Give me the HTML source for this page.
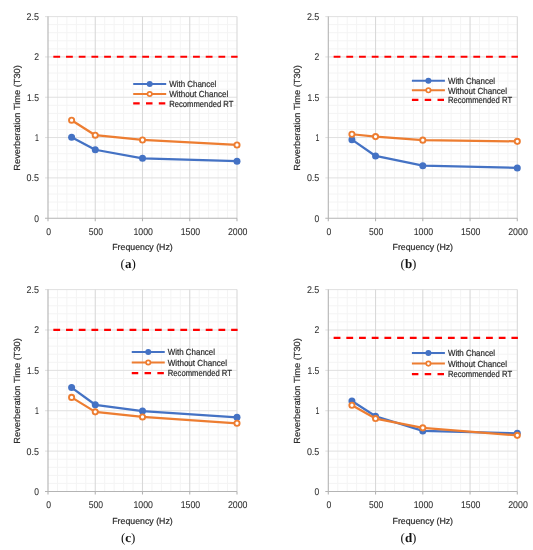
<!DOCTYPE html>
<html><head><meta charset="utf-8"><style>
html,body{margin:0;padding:0;background:#fff;width:533px;height:550px;overflow:hidden}
svg{display:block;will-change:transform;text-rendering:geometricPrecision}
.t{font-family:"Liberation Sans",sans-serif;font-size:8.8px;fill:#2b2b2b;stroke:#333;stroke-width:0.22px;stroke-linejoin:round}
.n{font-family:"Liberation Sans",sans-serif;font-size:9.8px;fill:#2b2b2b;stroke:#444;stroke-width:0.08px;stroke-linejoin:round}
.p{font-family:"Liberation Serif",serif;font-size:13px;fill:#111}
</style></head><body>
<svg width="533" height="550" viewBox="0 0 533 550">
<rect width="533" height="550" fill="#fff"/>
<path d="M57.45 16.6V218.2M66.9 16.6V218.2M76.35 16.6V218.2M85.8 16.6V218.2M104.7 16.6V218.2M114.15 16.6V218.2M123.6 16.6V218.2M133.05 16.6V218.2M151.95 16.6V218.2M161.4 16.6V218.2M170.85 16.6V218.2M180.3 16.6V218.2M199.2 16.6V218.2M208.65 16.6V218.2M218.1 16.6V218.2M227.55 16.6V218.2M48 210.14H237M48 202.07H237M48 194.01H237M48 185.94H237M48 169.82H237M48 161.75H237M48 153.69H237M48 145.62H237M48 129.5H237M48 121.43H237M48 113.37H237M48 105.3H237M48 89.18H237M48 81.11H237M48 73.05H237M48 64.98H237M48 48.86H237M48 40.79H237M48 32.73H237M48 24.66H237" stroke="#F4F4F4" stroke-width="1" fill="none"/>
<path d="M45 177.88H237M45 137.56H237M45 97.24H237M45 56.92H237M45 16.6H237" stroke="#E0E0E0" stroke-width="1" fill="none"/>
<path d="M95.25 16.6V218.2M142.5 16.6V218.2M189.75 16.6V218.2M237 16.6V218.2" stroke="#D9D9D9" stroke-width="1.1" fill="none"/>
<path d="M48 16.6V221.2 M45 218.2H237M95.25 218.2V221.2M142.5 218.2V221.2M189.75 218.2V221.2M237 218.2V221.2" stroke="#B4B4B4" stroke-width="1.1" fill="none"/>
<text x="39" y="221.6" text-anchor="end" class="n" textLength="4.7" lengthAdjust="spacingAndGlyphs">0</text>
<text x="39" y="181.28" text-anchor="end" class="n" textLength="12.4" lengthAdjust="spacingAndGlyphs">0.5</text>
<text x="39" y="140.96" text-anchor="end" class="n" textLength="3.9" lengthAdjust="spacingAndGlyphs">1</text>
<text x="39" y="100.64" text-anchor="end" class="n" textLength="11.9" lengthAdjust="spacingAndGlyphs">1.5</text>
<text x="39" y="60.32" text-anchor="end" class="n" textLength="4.8" lengthAdjust="spacingAndGlyphs">2</text>
<text x="39" y="20" text-anchor="end" class="n" textLength="12.4" lengthAdjust="spacingAndGlyphs">2.5</text>
<text x="48.7" y="234.8" text-anchor="middle" class="n" textLength="4.8" lengthAdjust="spacingAndGlyphs">0</text>
<text x="95.95" y="234.8" text-anchor="middle" class="n" textLength="14.3" lengthAdjust="spacingAndGlyphs">500</text>
<text x="143.2" y="234.8" text-anchor="middle" class="n" textLength="19.5" lengthAdjust="spacingAndGlyphs">1000</text>
<text x="190.45" y="234.8" text-anchor="middle" class="n" textLength="19.5" lengthAdjust="spacingAndGlyphs">1500</text>
<text x="237.7" y="234.8" text-anchor="middle" class="n" textLength="19.6" lengthAdjust="spacingAndGlyphs">2000</text>
<text x="142.5" y="250.2" text-anchor="middle" class="t" textLength="60.5" lengthAdjust="spacingAndGlyphs">Frequency (Hz)</text>
<text transform="translate(19.9 117.9) rotate(-90)" text-anchor="middle" class="t" font-size="9.6" textLength="105.5" lengthAdjust="spacingAndGlyphs">Reverberation Time (T30)</text>
<text x="128.2" y="268.2" text-anchor="middle" class="p">(<tspan font-weight="bold">a</tspan>)</text>
<path d="M53.33 56.77H237.6" stroke="#FF0000" stroke-width="2.2" stroke-dasharray="6.8 5.9" fill="none"/>
<polyline points="71.62,137.16 95.25,149.74 142.5,158.28 237,161.19" stroke="#4472C4" stroke-width="2.25" fill="none" stroke-linejoin="round"/>
<circle cx="71.62" cy="137.16" r="3.5" fill="#4472C4"/>
<circle cx="95.25" cy="149.74" r="3.5" fill="#4472C4"/>
<circle cx="142.5" cy="158.28" r="3.5" fill="#4472C4"/>
<circle cx="237" cy="161.19" r="3.5" fill="#4472C4"/>
<polyline points="71.62,120.22 95.25,135.22 142.5,139.98 237,144.98" stroke="#ED7D31" stroke-width="2.25" fill="none" stroke-linejoin="round"/>
<circle cx="71.62" cy="120.22" r="2.6" fill="#fff" stroke="#ED7D31" stroke-width="1.9"/>
<circle cx="95.25" cy="135.22" r="2.6" fill="#fff" stroke="#ED7D31" stroke-width="1.9"/>
<circle cx="142.5" cy="139.98" r="2.6" fill="#fff" stroke="#ED7D31" stroke-width="1.9"/>
<circle cx="237" cy="144.98" r="2.6" fill="#fff" stroke="#ED7D31" stroke-width="1.9"/>
<path d="M133.2 83.9h33" stroke="#4472C4" stroke-width="2"/>
<circle cx="149.7" cy="83.9" r="3" fill="#4472C4"/>
<path d="M133.2 94h33" stroke="#ED7D31" stroke-width="2"/>
<circle cx="149.7" cy="94" r="2.2" fill="#fff" stroke="#ED7D31" stroke-width="1.7"/>
<path d="M133.2 103.4h33" stroke="#FF0000" stroke-width="2.3" stroke-dasharray="6.5 6.3"/>
<text x="169.2" y="87.1" class="t" textLength="47.2" lengthAdjust="spacingAndGlyphs">With Chancel</text>
<text x="169.2" y="97.2" class="t" textLength="59.2" lengthAdjust="spacingAndGlyphs">Without Chancel</text>
<text x="169.2" y="106.6" class="t" textLength="64.2" lengthAdjust="spacingAndGlyphs">Recommended RT</text>
<path d="M337.75 16.6V218.2M347.2 16.6V218.2M356.65 16.6V218.2M366.1 16.6V218.2M385 16.6V218.2M394.45 16.6V218.2M403.9 16.6V218.2M413.35 16.6V218.2M432.25 16.6V218.2M441.7 16.6V218.2M451.15 16.6V218.2M460.6 16.6V218.2M479.5 16.6V218.2M488.95 16.6V218.2M498.4 16.6V218.2M507.85 16.6V218.2M328.3 210.14H517.3M328.3 202.07H517.3M328.3 194.01H517.3M328.3 185.94H517.3M328.3 169.82H517.3M328.3 161.75H517.3M328.3 153.69H517.3M328.3 145.62H517.3M328.3 129.5H517.3M328.3 121.43H517.3M328.3 113.37H517.3M328.3 105.3H517.3M328.3 89.18H517.3M328.3 81.11H517.3M328.3 73.05H517.3M328.3 64.98H517.3M328.3 48.86H517.3M328.3 40.79H517.3M328.3 32.73H517.3M328.3 24.66H517.3" stroke="#F4F4F4" stroke-width="1" fill="none"/>
<path d="M325.3 177.88H517.3M325.3 137.56H517.3M325.3 97.24H517.3M325.3 56.92H517.3M325.3 16.6H517.3" stroke="#E0E0E0" stroke-width="1" fill="none"/>
<path d="M375.55 16.6V218.2M422.8 16.6V218.2M470.05 16.6V218.2M517.3 16.6V218.2" stroke="#D9D9D9" stroke-width="1.1" fill="none"/>
<path d="M328.3 16.6V221.2 M325.3 218.2H517.3M375.55 218.2V221.2M422.8 218.2V221.2M470.05 218.2V221.2M517.3 218.2V221.2" stroke="#B4B4B4" stroke-width="1.1" fill="none"/>
<text x="319.3" y="221.6" text-anchor="end" class="n" textLength="4.7" lengthAdjust="spacingAndGlyphs">0</text>
<text x="319.3" y="181.28" text-anchor="end" class="n" textLength="12.4" lengthAdjust="spacingAndGlyphs">0.5</text>
<text x="319.3" y="140.96" text-anchor="end" class="n" textLength="3.9" lengthAdjust="spacingAndGlyphs">1</text>
<text x="319.3" y="100.64" text-anchor="end" class="n" textLength="11.9" lengthAdjust="spacingAndGlyphs">1.5</text>
<text x="319.3" y="60.32" text-anchor="end" class="n" textLength="4.8" lengthAdjust="spacingAndGlyphs">2</text>
<text x="319.3" y="20" text-anchor="end" class="n" textLength="12.4" lengthAdjust="spacingAndGlyphs">2.5</text>
<text x="329" y="234.8" text-anchor="middle" class="n" textLength="4.8" lengthAdjust="spacingAndGlyphs">0</text>
<text x="376.25" y="234.8" text-anchor="middle" class="n" textLength="14.3" lengthAdjust="spacingAndGlyphs">500</text>
<text x="423.5" y="234.8" text-anchor="middle" class="n" textLength="19.5" lengthAdjust="spacingAndGlyphs">1000</text>
<text x="470.75" y="234.8" text-anchor="middle" class="n" textLength="19.5" lengthAdjust="spacingAndGlyphs">1500</text>
<text x="518" y="234.8" text-anchor="middle" class="n" textLength="19.6" lengthAdjust="spacingAndGlyphs">2000</text>
<text x="422.8" y="250.2" text-anchor="middle" class="t" textLength="60.5" lengthAdjust="spacingAndGlyphs">Frequency (Hz)</text>
<text transform="translate(300.2 117.9) rotate(-90)" text-anchor="middle" class="t" font-size="9.6" textLength="105.5" lengthAdjust="spacingAndGlyphs">Reverberation Time (T30)</text>
<text x="408.5" y="268.2" text-anchor="middle" class="p">(<tspan font-weight="bold">b</tspan>)</text>
<path d="M333.63 56.77H517.9" stroke="#FF0000" stroke-width="2.2" stroke-dasharray="6.8 5.9" fill="none"/>
<polyline points="351.93,139.66 375.55,155.95 422.8,165.7 517.3,167.88" stroke="#4472C4" stroke-width="2.25" fill="none" stroke-linejoin="round"/>
<circle cx="351.93" cy="139.66" r="3.5" fill="#4472C4"/>
<circle cx="375.55" cy="155.95" r="3.5" fill="#4472C4"/>
<circle cx="422.8" cy="165.7" r="3.5" fill="#4472C4"/>
<circle cx="517.3" cy="167.88" r="3.5" fill="#4472C4"/>
<polyline points="351.93,134.25 375.55,136.59 422.8,140.14 517.3,141.35" stroke="#ED7D31" stroke-width="2.25" fill="none" stroke-linejoin="round"/>
<circle cx="351.93" cy="134.25" r="2.6" fill="#fff" stroke="#ED7D31" stroke-width="1.9"/>
<circle cx="375.55" cy="136.59" r="2.6" fill="#fff" stroke="#ED7D31" stroke-width="1.9"/>
<circle cx="422.8" cy="140.14" r="2.6" fill="#fff" stroke="#ED7D31" stroke-width="1.9"/>
<circle cx="517.3" cy="141.35" r="2.6" fill="#fff" stroke="#ED7D31" stroke-width="1.9"/>
<path d="M411.9 80.7h33" stroke="#4472C4" stroke-width="2"/>
<circle cx="428.4" cy="80.7" r="3" fill="#4472C4"/>
<path d="M411.9 90.3h33" stroke="#ED7D31" stroke-width="2"/>
<circle cx="428.4" cy="90.3" r="2.2" fill="#fff" stroke="#ED7D31" stroke-width="1.7"/>
<path d="M411.9 99.9h33" stroke="#FF0000" stroke-width="2.3" stroke-dasharray="6.5 6.3"/>
<text x="447.9" y="83.9" class="t" textLength="47.2" lengthAdjust="spacingAndGlyphs">With Chancel</text>
<text x="447.9" y="93.5" class="t" textLength="59.2" lengthAdjust="spacingAndGlyphs">Without Chancel</text>
<text x="447.9" y="103.1" class="t" textLength="64.2" lengthAdjust="spacingAndGlyphs">Recommended RT</text>
<path d="M57.45 289.6V491.5M66.9 289.6V491.5M76.35 289.6V491.5M85.8 289.6V491.5M104.7 289.6V491.5M114.15 289.6V491.5M123.6 289.6V491.5M133.05 289.6V491.5M151.95 289.6V491.5M161.4 289.6V491.5M170.85 289.6V491.5M180.3 289.6V491.5M199.2 289.6V491.5M208.65 289.6V491.5M218.1 289.6V491.5M227.55 289.6V491.5M48 483.42H237M48 475.35H237M48 467.27H237M48 459.2H237M48 443.04H237M48 434.97H237M48 426.89H237M48 418.82H237M48 402.66H237M48 394.59H237M48 386.51H237M48 378.44H237M48 362.28H237M48 354.21H237M48 346.13H237M48 338.06H237M48 321.9H237M48 313.83H237M48 305.75H237M48 297.68H237" stroke="#F4F4F4" stroke-width="1" fill="none"/>
<path d="M45 451.12H237M45 410.74H237M45 370.36H237M45 329.98H237M45 289.6H237" stroke="#E0E0E0" stroke-width="1" fill="none"/>
<path d="M95.25 289.6V491.5M142.5 289.6V491.5M189.75 289.6V491.5M237 289.6V491.5" stroke="#D9D9D9" stroke-width="1.1" fill="none"/>
<path d="M48 289.6V494.5 M45 491.5H237M95.25 491.5V494.5M142.5 491.5V494.5M189.75 491.5V494.5M237 491.5V494.5" stroke="#B4B4B4" stroke-width="1.1" fill="none"/>
<text x="39" y="494.9" text-anchor="end" class="n" textLength="4.7" lengthAdjust="spacingAndGlyphs">0</text>
<text x="39" y="454.52" text-anchor="end" class="n" textLength="12.4" lengthAdjust="spacingAndGlyphs">0.5</text>
<text x="39" y="414.14" text-anchor="end" class="n" textLength="3.9" lengthAdjust="spacingAndGlyphs">1</text>
<text x="39" y="373.76" text-anchor="end" class="n" textLength="11.9" lengthAdjust="spacingAndGlyphs">1.5</text>
<text x="39" y="333.38" text-anchor="end" class="n" textLength="4.8" lengthAdjust="spacingAndGlyphs">2</text>
<text x="39" y="293" text-anchor="end" class="n" textLength="12.4" lengthAdjust="spacingAndGlyphs">2.5</text>
<text x="48.7" y="508.1" text-anchor="middle" class="n" textLength="4.8" lengthAdjust="spacingAndGlyphs">0</text>
<text x="95.95" y="508.1" text-anchor="middle" class="n" textLength="14.3" lengthAdjust="spacingAndGlyphs">500</text>
<text x="143.2" y="508.1" text-anchor="middle" class="n" textLength="19.5" lengthAdjust="spacingAndGlyphs">1000</text>
<text x="190.45" y="508.1" text-anchor="middle" class="n" textLength="19.5" lengthAdjust="spacingAndGlyphs">1500</text>
<text x="237.7" y="508.1" text-anchor="middle" class="n" textLength="19.6" lengthAdjust="spacingAndGlyphs">2000</text>
<text x="142.5" y="523.5" text-anchor="middle" class="t" textLength="60.5" lengthAdjust="spacingAndGlyphs">Frequency (Hz)</text>
<text transform="translate(19.9 390.9) rotate(-90)" text-anchor="middle" class="t" font-size="9.6" textLength="105.5" lengthAdjust="spacingAndGlyphs">Reverberation Time (T30)</text>
<text x="128.2" y="541.5" text-anchor="middle" class="p">(<tspan font-weight="bold">c</tspan>)</text>
<path d="M53.33 329.83H237.6" stroke="#FF0000" stroke-width="2.2" stroke-dasharray="6.8 5.9" fill="none"/>
<polyline points="71.62,387.56 95.25,404.76 142.5,411.06 237,417.28" stroke="#4472C4" stroke-width="2.25" fill="none" stroke-linejoin="round"/>
<circle cx="71.62" cy="387.56" r="3.5" fill="#4472C4"/>
<circle cx="95.25" cy="404.76" r="3.5" fill="#4472C4"/>
<circle cx="142.5" cy="411.06" r="3.5" fill="#4472C4"/>
<circle cx="237" cy="417.28" r="3.5" fill="#4472C4"/>
<polyline points="71.62,397.41 95.25,411.87 142.5,416.96 237,423.26" stroke="#ED7D31" stroke-width="2.25" fill="none" stroke-linejoin="round"/>
<circle cx="71.62" cy="397.41" r="2.6" fill="#fff" stroke="#ED7D31" stroke-width="1.9"/>
<circle cx="95.25" cy="411.87" r="2.6" fill="#fff" stroke="#ED7D31" stroke-width="1.9"/>
<circle cx="142.5" cy="416.96" r="2.6" fill="#fff" stroke="#ED7D31" stroke-width="1.9"/>
<circle cx="237" cy="423.26" r="2.6" fill="#fff" stroke="#ED7D31" stroke-width="1.9"/>
<path d="M131.75 352.1h33" stroke="#4472C4" stroke-width="2"/>
<circle cx="148.25" cy="352.1" r="3" fill="#4472C4"/>
<path d="M131.75 362.5h33" stroke="#ED7D31" stroke-width="2"/>
<circle cx="148.25" cy="362.5" r="2.2" fill="#fff" stroke="#ED7D31" stroke-width="1.7"/>
<path d="M131.75 373.2h33" stroke="#FF0000" stroke-width="2.3" stroke-dasharray="6.5 6.3"/>
<text x="167.75" y="355.3" class="t" textLength="47.2" lengthAdjust="spacingAndGlyphs">With Chancel</text>
<text x="167.75" y="365.7" class="t" textLength="59.2" lengthAdjust="spacingAndGlyphs">Without Chancel</text>
<text x="167.75" y="376.4" class="t" textLength="64.2" lengthAdjust="spacingAndGlyphs">Recommended RT</text>
<path d="M337.75 289.6V491.5M347.2 289.6V491.5M356.65 289.6V491.5M366.1 289.6V491.5M385 289.6V491.5M394.45 289.6V491.5M403.9 289.6V491.5M413.35 289.6V491.5M432.25 289.6V491.5M441.7 289.6V491.5M451.15 289.6V491.5M460.6 289.6V491.5M479.5 289.6V491.5M488.95 289.6V491.5M498.4 289.6V491.5M507.85 289.6V491.5M328.3 483.42H517.3M328.3 475.35H517.3M328.3 467.27H517.3M328.3 459.2H517.3M328.3 443.04H517.3M328.3 434.97H517.3M328.3 426.89H517.3M328.3 418.82H517.3M328.3 402.66H517.3M328.3 394.59H517.3M328.3 386.51H517.3M328.3 378.44H517.3M328.3 362.28H517.3M328.3 354.21H517.3M328.3 346.13H517.3M328.3 338.06H517.3M328.3 321.9H517.3M328.3 313.83H517.3M328.3 305.75H517.3M328.3 297.68H517.3" stroke="#F4F4F4" stroke-width="1" fill="none"/>
<path d="M325.3 451.12H517.3M325.3 410.74H517.3M325.3 370.36H517.3M325.3 329.98H517.3M325.3 289.6H517.3" stroke="#E0E0E0" stroke-width="1" fill="none"/>
<path d="M375.55 289.6V491.5M422.8 289.6V491.5M470.05 289.6V491.5M517.3 289.6V491.5" stroke="#D9D9D9" stroke-width="1.1" fill="none"/>
<path d="M328.3 289.6V494.5 M325.3 491.5H517.3M375.55 491.5V494.5M422.8 491.5V494.5M470.05 491.5V494.5M517.3 491.5V494.5" stroke="#B4B4B4" stroke-width="1.1" fill="none"/>
<text x="319.3" y="494.9" text-anchor="end" class="n" textLength="4.7" lengthAdjust="spacingAndGlyphs">0</text>
<text x="319.3" y="454.52" text-anchor="end" class="n" textLength="12.4" lengthAdjust="spacingAndGlyphs">0.5</text>
<text x="319.3" y="414.14" text-anchor="end" class="n" textLength="3.9" lengthAdjust="spacingAndGlyphs">1</text>
<text x="319.3" y="373.76" text-anchor="end" class="n" textLength="11.9" lengthAdjust="spacingAndGlyphs">1.5</text>
<text x="319.3" y="333.38" text-anchor="end" class="n" textLength="4.8" lengthAdjust="spacingAndGlyphs">2</text>
<text x="319.3" y="293" text-anchor="end" class="n" textLength="12.4" lengthAdjust="spacingAndGlyphs">2.5</text>
<text x="329" y="508.1" text-anchor="middle" class="n" textLength="4.8" lengthAdjust="spacingAndGlyphs">0</text>
<text x="376.25" y="508.1" text-anchor="middle" class="n" textLength="14.3" lengthAdjust="spacingAndGlyphs">500</text>
<text x="423.5" y="508.1" text-anchor="middle" class="n" textLength="19.5" lengthAdjust="spacingAndGlyphs">1000</text>
<text x="470.75" y="508.1" text-anchor="middle" class="n" textLength="19.5" lengthAdjust="spacingAndGlyphs">1500</text>
<text x="518" y="508.1" text-anchor="middle" class="n" textLength="19.6" lengthAdjust="spacingAndGlyphs">2000</text>
<text x="422.8" y="523.5" text-anchor="middle" class="t" textLength="60.5" lengthAdjust="spacingAndGlyphs">Frequency (Hz)</text>
<text transform="translate(300.2 390.9) rotate(-90)" text-anchor="middle" class="t" font-size="9.6" textLength="105.5" lengthAdjust="spacingAndGlyphs">Reverberation Time (T30)</text>
<text x="408.5" y="541.5" text-anchor="middle" class="p">(<tspan font-weight="bold">d</tspan>)</text>
<path d="M333.63 337.91H517.9" stroke="#FF0000" stroke-width="2.2" stroke-dasharray="6.8 5.9" fill="none"/>
<polyline points="351.93,401.05 375.55,416.23 422.8,430.93 517.3,433.35" stroke="#4472C4" stroke-width="2.25" fill="none" stroke-linejoin="round"/>
<circle cx="351.93" cy="401.05" r="3.5" fill="#4472C4"/>
<circle cx="375.55" cy="416.23" r="3.5" fill="#4472C4"/>
<circle cx="422.8" cy="430.93" r="3.5" fill="#4472C4"/>
<circle cx="517.3" cy="433.35" r="3.5" fill="#4472C4"/>
<polyline points="351.93,405.25 375.55,418.57 422.8,427.86 517.3,435.37" stroke="#ED7D31" stroke-width="2.25" fill="none" stroke-linejoin="round"/>
<circle cx="351.93" cy="405.25" r="2.6" fill="#fff" stroke="#ED7D31" stroke-width="1.9"/>
<circle cx="375.55" cy="418.57" r="2.6" fill="#fff" stroke="#ED7D31" stroke-width="1.9"/>
<circle cx="422.8" cy="427.86" r="2.6" fill="#fff" stroke="#ED7D31" stroke-width="1.9"/>
<circle cx="517.3" cy="435.37" r="2.6" fill="#fff" stroke="#ED7D31" stroke-width="1.9"/>
<path d="M411.9 353h33" stroke="#4472C4" stroke-width="2"/>
<circle cx="428.4" cy="353" r="3" fill="#4472C4"/>
<path d="M411.9 363.6h33" stroke="#ED7D31" stroke-width="2"/>
<circle cx="428.4" cy="363.6" r="2.2" fill="#fff" stroke="#ED7D31" stroke-width="1.7"/>
<path d="M411.9 374.2h33" stroke="#FF0000" stroke-width="2.3" stroke-dasharray="6.5 6.3"/>
<text x="447.9" y="356.2" class="t" textLength="47.2" lengthAdjust="spacingAndGlyphs">With Chancel</text>
<text x="447.9" y="366.8" class="t" textLength="59.2" lengthAdjust="spacingAndGlyphs">Without Chancel</text>
<text x="447.9" y="377.4" class="t" textLength="64.2" lengthAdjust="spacingAndGlyphs">Recommended RT</text>
</svg>
</body></html>
